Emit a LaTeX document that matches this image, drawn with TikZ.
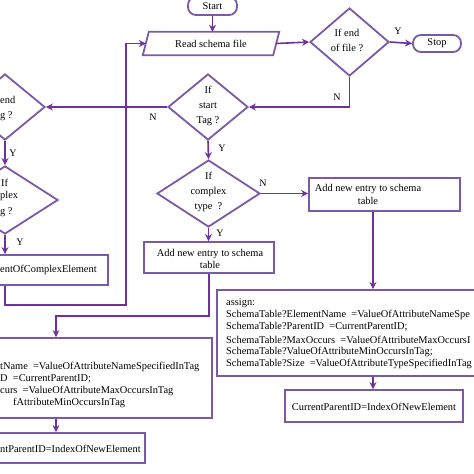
\documentclass[tikz,border=0pt]{standalone}
\usepackage{fontspec}
\setmainfont{Liberation Serif}
\usetikzlibrary{shapes.geometric,arrows.meta}
\definecolor{arrowc}{HTML}{7030A0}
\definecolor{boxc}{HTML}{7A5AA6}
\tikzset{
  txt/.style={font=\fontsize{10.4}{12}\selectfont, inner sep=0pt},
  flowbox/.style={draw=boxc, line width=1.8pt, rectangle, inner sep=0pt},
  term/.style={draw=boxc, line width=1.8pt, rounded corners=8pt, inner sep=0pt, font=\fontsize{10.4}{12}\selectfont},
  dia/.style={draw=boxc, line width=1.8pt, diamond, inner sep=0pt},
  arr/.style={draw=arrowc, line width=1.6pt, -{Stealth[length=7pt,width=7pt]}},
  lbl/.style={font=\fontsize{10}{12}\selectfont, inner sep=0pt},
  dtext/.style={align=center, font=\fontsize{10.4}{15}\selectfont, inner sep=0pt},
  btext/.style={align=center, font=\fontsize{10.4}{12.5}\selectfont, inner sep=0pt},
  ltext/.style={anchor=west, font=\fontsize{10.4}{12}\selectfont, inner sep=0pt}
}
\begin{document}
\begin{tikzpicture}[x=1pt,y=-1pt]
\useasboundingbox (0,0) rectangle (474,474);
\clip (0,0) rectangle (474,474);
\fill[white] (0,0) rectangle (474,474);

% terminals
\node[term, minimum width=49pt, minimum height=18pt] (start) at (212.5,6) {Start};
\node[term, minimum width=48pt, minimum height=17pt] (stop) at (437,43.5) {Stop};

% read schema file (parallelogram)
\node[txt, minimum width=130pt, minimum height=23pt] (read) at (211,43.5) {Read schema file};
\draw[draw=boxc, line width=1.8pt, line join=miter]
  ([xshift=3pt]read.north west) -- ([xshift=3pt]read.north east) --
  ([xshift=-3pt]read.south east) -- ([xshift=-3pt]read.south west) -- cycle;

% diamonds
\node[dia, minimum width=79pt, minimum height=68pt] (d1) at (349.5,42) {};
\node[dtext] (d1t) at (347,40.5) {If end\\of file ?};
\node[dia, minimum width=80pt, minimum height=66pt] (d2) at (208,107) {};
\node[dtext] (d2t) at (208,106) {If\\start\\Tag ?};
\node[dia, minimum width=103pt, minimum height=67pt] (d3) at (208.5,193.5) {};
\node[dtext] (d3t) at (208.5,191.5) {If\\complex\\type~ ?};
\node[dia, minimum width=80pt, minimum height=66pt] (ld1) at (5,107) {};
\node[ltext] (ld1a) at (0,100) {end};
\node[ltext] (ld1b) at (0,116) {g ?};
\node[dia, minimum width=106pt, minimum height=68pt] (ld2) at (5,200) {};
\node[ltext] (ld2a) at (1,183) {If};
\node[ltext] (ld2b) at (0,196) {plex};
\node[ltext] (ld2c) at (0,212) {g ?};

% boxes
\node[flowbox, minimum width=151pt, minimum height=33pt] (rb1) at (384.5,194.5) {};
\node[btext] (rb1t) at (368,194.5) {Add new entry to schema\\table};
\node[flowbox, minimum width=130pt, minimum height=31pt] (mb1) at (209,257.5) {};
\node[btext] (mb1t) at (210,259) {Add new entry to schema\\table};
\node[flowbox, minimum width=168pt, minimum height=30pt] (lb1) at (24,270) {};
\node[ltext] (lb1t) at (0,270) {entOfComplexElement};

\node[flowbox, minimum width=343pt, minimum height=86pt] (ra) at (388.5,333) {};
\node[ltext] (ra1) at (226,303) {assign:};
\node[ltext] (ra2) at (226,315) {SchemaTable?ElementName~ =ValueOfAttributeNameSpe};
\node[ltext] (ra3) at (226,327) {SchemaTable?ParentID~ =CurrentParentID;};
\node[ltext] (ra4) at (226,339.5) {SchemaTable?MaxOccurs~ =ValueOfAttributeMaxOccursI};
\node[ltext] (ra5) at (226,351.5) {SchemaTable?ValueOfAttributeMinOccursInTag;};
\node[ltext] (ra6) at (226,364) {SchemaTable?Size~ =ValueOfAttributeTypeSpecifiedInTag};

\node[flowbox, minimum width=178pt, minimum height=32pt] (rc) at (374,406) {};
\node[txt] (rct) at (374,406.5) {CurrentParentID=IndexOfNewElement};

\node[flowbox, minimum width=362pt, minimum height=80pt] (la) at (31,378) {};
\node[ltext] (la1) at (0,367) {tName~ =ValueOfAttributeNameSpecifiedInTag};
\node[ltext] (la2) at (0,379) {D~ =CurrentParentID;};
\node[ltext] (la3) at (0,391) {curs~ =ValueOfAttributeMaxOccursInTag};
\node[ltext] (la4) at (13,403) {fAttributeMinOccursInTag};

\node[flowbox, minimum width=195pt, minimum height=30pt] (lc) at (47.5,448) {};
\node[ltext] (lct) at (0,449) {ntParentID=IndexOfNewElement};

% helper coordinates
\coordinate (loopx) at (126,305);
\coordinate (midx) at (56,316);
\coordinate (rcol) at (373,250);

% connectors
\draw[arr] (start.south) -- (start.south |- read.north);
\draw[arr] (read.east) -- (d1.west);
\draw[arr] (d1.east) -- (stop.west);
\node[lbl] (y1) at (398,31) {Y};
\draw[arr] (d1.south) -- (d1.south |- d2.east) -- (d2.east);
\node[lbl] (n1) at (337,97) {N};
\draw[arr] (d2.south) -- (d3.north);
\node[lbl] (y2) at (222,148) {Y};
\draw[arr] (d2.west) -- (ld1.east);
\node[lbl] (n2) at (153,117) {N};
\draw[arr] (ld1.south) -- (ld2.north);
\node[lbl] (y3) at (13,153) {Y};
\draw[arr] (ld2.south) -- (ld2.south |- lb1.north);
\node[lbl] (y4) at (20,242) {Y};
\draw[arr] (ld2.south |- lb1.south) -- (ld2.south |- loopx) -- (loopx) -- (loopx |- read.west) -- (read.west);
\draw[arr] (d3.east) -- (d3.east -| rb1.west);
\node[lbl] (n3) at (263,183) {N};
\draw[arr] (d3.south) -- (d3.south |- mb1.north);
\node[lbl] (y5) at (220,233) {Y};
\draw[arr] (mb1.south) -- (mb1.south |- midx) -- (midx) -- (midx |- la.north);
\draw[arr] (rcol |- rb1.south) -- (rcol |- ra.north);
\draw[arr] (rcol |- ra.south) -- (rcol |- rc.north);
\draw[arr] (midx |- la.south) -- (midx |- lc.north);
\end{tikzpicture}
\end{document}
